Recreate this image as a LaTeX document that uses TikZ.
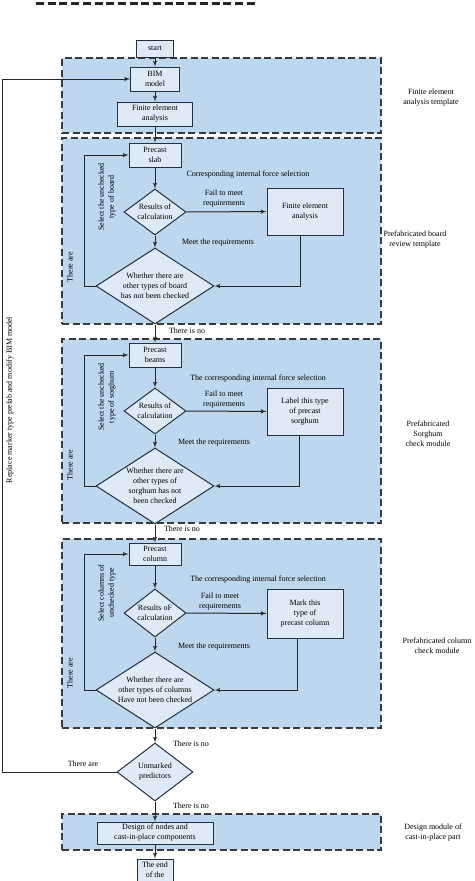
\documentclass[tikz,border=0pt]{standalone}
\usepackage{fontspec}
\setmainfont{Liberation Serif}
\usetikzlibrary{shapes.geometric,calc,arrows}
\definecolor{ModuleFill}{HTML}{BDD7EE}
\definecolor{BoxFill}{HTML}{DEEBF7}
\definecolor{BoxLine}{HTML}{25303D}
\definecolor{DashLine}{HTML}{3A3A3A}
\tikzset{%
	% Style of the module frame
	Module/.style={rectangle,draw=DashLine,fill=ModuleFill,line width=1.3pt,dash pattern=on 7pt off 3.5pt,inner sep=0},
	% Style of the process box
	Block/.style={rectangle,draw=BoxLine,fill=BoxFill,line width=1pt,align=center,inner sep=0},
	% Style of the decision
	Decision/.style={diamond,draw=BoxLine,fill=BoxFill,line width=1pt,align=center,inner sep=-9pt,aspect=1.5},
	% Style of the free label
	Label/.style={align=center,inner sep=0},
	% Style of the branch
	Connection/.style={line width=1pt,draw=black!85},
}

\begin{document}
\begin{tikzpicture}[x=1pt,y=-1pt,>=latex',font=\fontsize{8}{10}\selectfont]
\useasboundingbox (0,0) rectangle (474,881);
\clip (0,0) rectangle (474,881);

%~~~~~~~~~~~~~~~~~~~~~~~~~~~~~~~~~~~~~~~~~~~~~~~~~~
% Set Modules
%~~~~~~~~~~~~~~~~~~~~~~~~~~~~~~~~~~~~~~~~~~~~~~~~~~
\draw[line width=3pt,dash pattern=on 8pt off 3.7pt,black!85] (36,3.5) -- (258,3.5);

\node[Module,minimum width=319,minimum height=75] (M1) at (221.5,95.5) {};
\node[Label] at (431,98) {Finite element\\analysis template};

\node[Module,minimum width=319,minimum height=186] (M2) at (221.5,231) {};
\node[Label] at (415,240) {Prefabricated board\\review template};

\node[Module,minimum width=319,minimum height=184] (M3) at (221.5,431) {};
\node[Label] at (428,434) {Prefabricated\\Sorghum\\check module};

\node[Module,minimum width=319,minimum height=189] (M4) at (221.5,633.5) {};
\node[Label] at (437,646) {Prefabricated column\\check module};

\node[Module,minimum width=319,minimum height=36] (M5) at (221.5,832) {};
\node[Label] at (433,833) {Design module of\\cast-in-place part};

%~~~~~~~~~~~~~~~~~~~~~~~~~~~~~~~~~~~~~~~~~~~~~~~~~~
% Set Nodes
%~~~~~~~~~~~~~~~~~~~~~~~~~~~~~~~~~~~~~~~~~~~~~~~~~~
\node[Block,minimum width=37,minimum height=17] (Start) at (155,48.5) {start};
\node[Block,minimum width=49,minimum height=24] (BIM) at (155,79) {BIM\\model};
\node[Block,minimum width=75,minimum height=24] (FEA) at (155,114) {Finite element\\analysis};

% board
\node[Block,minimum width=52,minimum height=24] (P1) at (155,155) {Precast\\slab};
\node[Decision,minimum width=62,minimum height=46] (D1) at (155,212) {Results of\\calculation};
\node[Block,minimum width=76,minimum height=47] (R1) at (305,211.5) {Finite element\\analysis};
\node[Decision,minimum width=118,minimum height=76] (W1) at (155,286) {Whether there are\\other types of board\\has not been checked};

% sorghum
\node[Block,minimum width=52,minimum height=24] (P2) at (155,355) {Precast\\beams};
\node[Decision,minimum width=62,minimum height=46] (D2) at (155,411) {Results of\\calculation};
\node[Block,minimum width=76,minimum height=47] (R2) at (305,411.5) {Label this type\\of precast\\sorghum};
\node[Decision,minimum width=118,minimum height=76] (W2) at (155,486) {Whether there are\\other types of\\sorghum has not\\been checked};

% column
\node[Block,minimum width=52,minimum height=22] (P3) at (155,554) {Precast\\column};
\node[Decision,minimum width=62,minimum height=48] (D3) at (155,613) {Results oF\\calculation};
\node[Block,minimum width=76,minimum height=49] (R3) at (305,613.5) {Mark this\\type of\\precast column};
\node[Decision,minimum width=118,minimum height=76] (W3) at (155,690) {Whether there are\\other types of columns\\Have not been checked};

\node[Decision,minimum width=76,minimum height=58] (U) at (155,772) {Unmarked\\predictors};
\node[Block,minimum width=116,minimum height=22] (Design) at (155,833) {Design of nodes and\\cast-in-place components};
\node[Block,minimum width=36,minimum height=32] (End) at (155,875) {The end\\of the\\\mbox{}};

\coordinate (Back) at (2,772);

%~~~~~~~~~~~~~~~~~~~~~~~~~~~~~~~~~~~~~~~~~~~~~~~~~~
% Set Branches
%~~~~~~~~~~~~~~~~~~~~~~~~~~~~~~~~~~~~~~~~~~~~~~~~~~
\draw[->,Connection] (Start) -- (BIM);
\draw[->,Connection] (BIM) -- (FEA);
\draw[->,Connection] (FEA) -- (P1);

%Branches of the board module
\draw[->,Connection] (P1) -- (D1);
\node[Label] at (248,175) {Corresponding internal force selection};
\draw[->,Connection] (D1) -- (R1);
\node[Label] at (224,199) {Fail to meet\\requirements};
\draw[->,Connection] (D1) -- (W1);
\node[Label] at (218,243) {Meet the requirements};
\draw[->,Connection] ([xshift=-5pt]R1.south) |- (W1.east);
\draw[->,Connection] (W1.west) -- ++(-11,0) |- (P1.west);
\node[Label,rotate=90] at (107,197) {Select the unchecked\\type of board};
\node[Label,rotate=90] at (70,267) {There are};
\draw[->,Connection] (W1) -- (P2);
\node[Label] at (187,331) {There is no};

%Branches of the sorghum module
\draw[->,Connection] (P2) -- (D2);
\node[Label] at (258,379) {The corresponding internal force selection};
\draw[->,Connection] (D2) -- (R2);
\node[Label] at (224,400) {Fail to meet\\requirements};
\draw[->,Connection] (D2) -- (W2);
\node[Label] at (214,443) {Meet the requirements};
\draw[->,Connection] ([xshift=-6pt]R2.south) |- (W2.east);
\draw[->,Connection] (W2.west) -- ++(-11,0) |- (P2.west);
\node[Label,rotate=90] at (107,397) {Select the unchecked\\type of sorghum};
\node[Label,rotate=90] at (70,465) {There are};
\draw[->,Connection] (W2) -- (P3);
\node[Label] at (182,529) {There is no};

%Branches of the column module
\draw[->,Connection] (P3) -- (D3);
\node[Label] at (258,580) {The corresponding internal force selection};
\draw[->,Connection] (D3) -- (R3);
\node[Label] at (220,602) {Fail to meet\\requirements};
\draw[->,Connection] (D3) -- (W3);
\node[Label] at (214,647) {Meet the requirements};
\draw[->,Connection] ([xshift=-8pt]R3.south) |- (W3.east);
\draw[->,Connection] (W3.west) -- ++(-11,0) |- (P3.west);
\node[Label,rotate=90] at (107,593) {Select columns of\\unchecked type};
\node[Label,rotate=90] at (70,673) {There are};
\draw[->,Connection] (W3) -- (U);
\node[Label] at (191,744) {There is no};

%Branches of the last check
\draw[->,Connection] (U.west) -- (Back) |- (BIM.west);
\node[Label] at (83,764) {There are};
\node[Label,rotate=90] at (10,400) {Replace marker type prefab and modify BIM model};
\draw[->,Connection] (U) -- (Design);
\node[Label] at (191,806) {There is no};
\draw[->,Connection] (Design) -- (End);

\end{tikzpicture}
\end{document}
